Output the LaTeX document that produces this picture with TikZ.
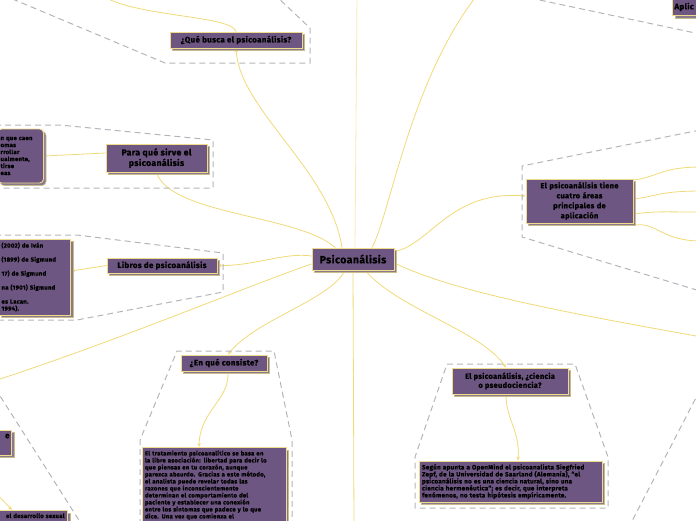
\documentclass[tikz,border=0pt]{standalone}
\usepackage{fontspec}
\setmainfont{Fira Sans}[LetterSpace=4,BoldFeatures={FakeBold=0.6}]
\usetikzlibrary{arrows.meta,shadows,backgrounds}
\definecolor{MapFill}{HTML}{6E5682}
\definecolor{MapEdge}{HTML}{EEDC8C}
\definecolor{MapShade}{HTML}{8A7A8E}
\definecolor{MapShadeEdge}{HTML}{C9BC8A}
\definecolor{MapLine}{HTML}{F0DA78}
\definecolor{MapDash}{HTML}{B4B4BC}
\tikzset{>={Stealth[length=4pt,width=3.5pt]},topic/.style={draw=MapEdge,fill=MapFill,
 text=black,line width=0.9pt,inner sep=2pt,align=center,font=\fontsize{8}{10}\selectfont\bfseries,
 general shadow={shadow xshift=2.5pt,shadow yshift=-2.5pt,fill=MapShade,draw=MapShadeEdge,
 line width=0.7pt}},note/.style={topic,align=left,inner sep=3pt,
 font=\fontsize{6}{7}\selectfont\bfseries},link/.style={draw=MapLine,line width=0.8pt},
 group/.style={draw=MapDash,line width=1pt,dash pattern=on 6pt off 4pt}}
\begin{document}
\begin{tikzpicture}[x=1pt,y=-1pt]
\useasboundingbox (0,0) rectangle (696,520);
\clip (0,0) rectangle (696,520);
\draw[group] (3,-5)--(165,63)--(310,63)--(310,28)--(275,-5);
\draw[group] (-5,125)--(60,125)--(213,140)--(213,188)--(-5,188);
\draw[group] (-5,235)--(77,235)--(223,253)--(223,292)--(77,320)--(-5,320);
\draw[group] (700,130)--(522,166)--(522,237)--(700,291);
\draw[group] (530,-2)--(700,34);
\draw[group] (140,525)--(140,440)--(177,351)--(274,351)--(292,440)--(292,525);
\draw[group] (447,364)--(575,364)--(608,457)--(608,508)--(415,508)--(415,457)--cycle;
\draw[group] (700,390)--(630,525);
\draw[group] (-5,388)--(82,525);
\node[topic,font=\fontsize{10.5}{12}\selectfont\bfseries,minimum width=82pt,
 minimum height=22pt] (psico) at (353,259) {Psicoanálisis};
\node[topic,minimum width=132pt,minimum height=16pt] (busca) at (236,40)
 {¿Qué busca el psicoanálisis?};
\node[topic,font=\fontsize{8.7}{10.5}\selectfont\bfseries,minimum width=101pt,
 minimum height=28pt] (sirve) at (156.5,158) {Para qué sirve el\\psicoanálisis};
\node[note,rounded corners=4pt,anchor=east,text width=40pt,minimum height=54pt]
 (sirvetxt) at (44,156) {n que caen\\omas\\rrollar\\ualmente,\\tirse\\eas};
\node[topic,minimum width=110pt,minimum height=15pt] (libros) at (162,265.5)
 {Libros de psicoanálisis};
\node[note,anchor=east,text width=66pt,minimum height=76pt] (librostxt) at (71,277)
 {(2002) de Iván\\[7pt](1899) de Sigmund\\[7pt]17) de Sigmund\\[7pt]na (1901) Sigmund\\[7pt]es Lacan.\\1994).};
\node[topic,font=\fontsize{7.5}{10}\selectfont\bfseries,text width=103pt,minimum height=44pt]
 (areas) at (579.5,201) {El psicoanálisis tiene\\cuatro áreas\\principales de\\aplicación};
\node[topic,anchor=north west,text width=40pt,align=left,minimum height=17pt] (aplic)
 at (672,-2) {Aplic};
\node[topic,minimum width=86pt,minimum height=16pt] (consiste) at (224,363)
 {¿En qué consiste?};
\node[note,anchor=north,text width=138pt] (consistetxt) at (214,447)
 {El tratamiento psicoanalítico se basa en\\la libre asociación: libertad para decir lo\\que piensas en tu corazón, aunque\\parezca absurdo. Gracias a este método,\\el analista puede revelar todas las\\razones que inconscientemente\\determinan el comportamiento del\\paciente y establecer una conexión\\entre los síntomas que padece y lo que\\dice. Una vez que comienza el};
\node[topic,font=\fontsize{7.5}{9}\selectfont\bfseries,minimum width=116pt,minimum height=26pt]
 (ciencia) at (510,381) {El psicoanálisis, ¿ciencia\\o pseudociencia?};
\node[note,font=\fontsize{6.3}{7}\selectfont\bfseries,text width=177pt,minimum height=41pt]
 (cienciatxt) at (510.5,481.5)
 {Según apunta a OpenMind el psicoanalista Siegfried\\Zepf, de la Universidad de Saarland (Alemania), “el\\psicoanálisis no es una ciencia natural, sino una\\ciencia hermenéutica”; es decir, que interpreta\\fenómenos, no testa hipótesis empíricamente.};
\node[topic,anchor=east,text width=44pt,align=right,minimum height=25pt] (lefte)
 at (12,442.5) {e\\\strut};
\node[note,anchor=north east,text width=70pt,align=right] (desarrollo) at (68,510)
 {el desarrollo sexual};
\coordinate (qbup) at (100,-6);
\coordinate (up1) at (357,-6);
\coordinate (up2) at (478,-6);
\coordinate (right1) at (702,337);
\coordinate (left1) at (-6,381);
\coordinate (down1) at (354,526);
\coordinate (lefte2) at (-6,491);
\begin{scope}[on background layer]
\draw[link,->] ([xshift=-11pt]psico.north) .. controls (330,170) and (240,110) .. (busca.south);
\draw[link] (busca.north) .. controls (232,15) and (130,17) .. (qbup);
\draw[link,draw=MapLine!55] ([xshift=2pt]psico.north) -- (up1);
\draw[link] ([xshift=19pt]psico.north) .. controls (390,215) and (410,80) .. (up2);
\draw[link,->] ([yshift=-4pt]psico.north east) .. controls (430,245) and (450,190)
 .. ([yshift=5pt]areas.west);
\foreach \s/\y in {21/167,2/191,-13/212,-24/241}
 {\draw[link] ([yshift=\s pt]areas.east) .. controls +(25,-3) and (660,\y) .. (702,\y);}
\draw[link] ([yshift=-4pt]psico.east) .. controls (450,290) and (550,310) .. (right1);
\draw[link,->] ([yshift=3pt]psico.west) .. controls (285,252) and (255,266) .. (libros.east);
\draw[link,->] (libros.west) -- ([yshift=6pt]librostxt.east);
\draw[link] ([xshift=-18pt]psico.north) .. controls (300,215) and (170,215) .. (sirve.south);
\draw[link] ([yshift=5pt]sirve.west) -- (sirvetxt.east);
\draw[link] ([yshift=-5pt]psico.west) .. controls (250,285) and (120,340) .. (left1);
\draw[link,->] ([xshift=-8pt]psico.south) .. controls (330,300) and (255,320)
 .. ([xshift=4pt]consiste.north);
\draw[link,->] ([xshift=4pt]consiste.south) .. controls (230,400) and (200,410)
 .. ([xshift=-15pt]consistetxt.north);
\draw[link] (psico.south) -- (down1);
\draw[link,->] ([xshift=12pt]psico.south) .. controls (400,310) and (480,330)
 .. ([xshift=-4pt]ciencia.north);
\draw[link,->] ([xshift=-4pt]ciencia.south) .. controls (506,420) and (520,430)
 .. ([xshift=7.5pt]cienciatxt.north);
\draw[link,->] (lefte2) -- ([xshift=-56pt]desarrollo.north east);
\end{scope}
\end{tikzpicture}
\end{document}
